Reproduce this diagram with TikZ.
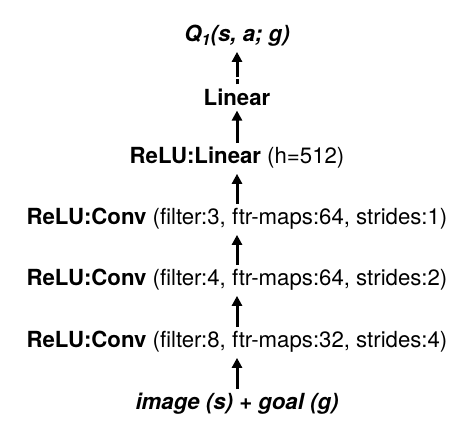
\documentclass[tikz,border=0pt]{standalone}
\usepackage{fontspec}
\setmainfont{TeX Gyre Heros}
\usetikzlibrary{arrows.meta}
\begin{document}
\begin{tikzpicture}[x=1pt,y=1pt,
  lbl/.style={inner sep=0pt, font=\fontsize{22.2}{25}\selectfont},
  up/.style={-{Triangle[length=10pt,width=10pt]}, line width=3pt, shorten <=4pt, shorten >=5pt}]
\useasboundingbox (0,0) rectangle (474,-440);
\node[lbl] (q) at (237,-36) {\textbf{\textit{Q\textsubscript{1}(s, a; g)}}};
\node[lbl] (lin) at (237,-97) {\textbf{Linear}};
\node[lbl] (rl) at (237,-158) {\textbf{ReLU:Linear} (h=512)};
\node[lbl] (c3) at (237,-219) {\textbf{ReLU:Conv} (filter:3, ftr-maps:64, strides:1)};
\node[lbl] (c2) at (237,-280) {\textbf{ReLU:Conv} (filter:4, ftr-maps:64, strides:2)};
\node[lbl] (c1) at (237,-342) {\textbf{ReLU:Conv} (filter:8, ftr-maps:32, strides:4)};
\node[lbl] (img) at (237,-404) {\textbf{\textit{image (s) + goal (g)}}};
\draw[up] (img) -- (c1);
\draw[up] (c1) -- (c2);
\draw[up] (c2) -- (c3);
\draw[up] (c3) -- (rl);
\draw[up] (rl) -- (lin);
\draw[up, dash pattern=on 5pt off 2pt on 30pt] (lin) -- (q);
\end{tikzpicture}
\end{document}
